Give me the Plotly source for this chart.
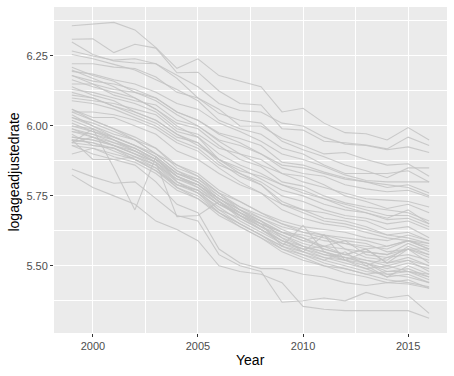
import plotly.graph_objects as go

years = list(range(1999, 2017))

U1 = [6.358, 6.365, 6.370, 6.343, 6.280, 6.206, 6.240, 6.180, 6.160, 6.140, 6.050, 6.063, 6.010, 5.976, 5.972, 5.950, 5.994, 5.950]
U2 = [6.310, 6.311, 6.262, 6.292, 6.278, 6.190, 6.192, 6.125, 6.080, 6.075, 5.990, 5.985, 5.945, 5.940, 5.932, 5.918, 5.960, 5.930]
U3 = [6.268, 6.250, 6.235, 6.240, 6.222, 6.182, 6.140, 6.080, 6.055, 6.050, 6.010, 6.000, 5.960, 5.935, 5.930, 5.915, 5.925, 5.905]
U4 = [6.300, 6.255, 6.232, 6.225, 6.222, 6.170, 6.100, 6.060, 6.000, 6.000, 5.955, 5.930, 5.900, 5.905, 5.880, 5.860, 5.865, 5.820]
U5 = [6.222, 6.222, 6.210, 6.205, 6.175, 6.120, 6.100, 6.045, 6.020, 6.010, 5.945, 5.915, 5.890, 5.860, 5.840, 5.815, 5.850, 5.850]
U6 = [6.255, 6.240, 6.220, 6.200, 6.165, 6.130, 6.090, 6.020, 5.990, 5.970, 5.920, 5.900, 5.860, 5.830, 5.830, 5.830, 5.840, 5.800]
U7 = [6.195, 6.185, 6.165, 6.150, 6.120, 6.080, 6.060, 6.010, 5.980, 5.945, 5.900, 5.880, 5.855, 5.825, 5.805, 5.800, 5.800, 5.800]
U8 = [6.180, 6.160, 6.150, 6.130, 6.100, 6.050, 6.020, 5.975, 5.955, 5.930, 5.870, 5.860, 5.835, 5.815, 5.800, 5.790, 5.780, 5.750]
U9 = [6.150, 6.150, 6.110, 6.090, 6.075, 6.020, 6.000, 5.950, 5.930, 5.900, 5.850, 5.830, 5.820, 5.790, 5.775, 5.765, 5.770, 5.745]
U10 = [6.210, 6.180, 6.160, 6.120, 6.090, 6.040, 6.000, 5.945, 5.900, 5.880, 5.830, 5.800, 5.780, 5.760, 5.740, 5.735, 5.730, 5.710]
U11 = [6.130, 6.120, 6.100, 6.080, 6.050, 5.990, 5.970, 5.920, 5.900, 5.860, 5.830, 5.820, 5.790, 5.750, 5.730, 5.705, 5.720, 5.690]
U12 = [6.165, 6.140, 6.120, 6.100, 6.060, 6.010, 5.990, 5.930, 5.880, 5.855, 5.800, 5.785, 5.750, 5.725, 5.710, 5.700, 5.690, 5.660]
U13 = [6.100, 6.090, 6.080, 6.060, 6.040, 5.980, 5.960, 5.900, 5.860, 5.830, 5.790, 5.770, 5.740, 5.720, 5.700, 5.680, 5.680, 5.650]
U14 = [6.120, 6.100, 6.070, 6.040, 6.010, 5.960, 5.940, 5.880, 5.850, 5.810, 5.770, 5.750, 5.720, 5.700, 5.690, 5.665, 5.670, 5.640]
U15 = [6.090, 6.080, 6.060, 6.030, 6.000, 5.950, 5.920, 5.860, 5.830, 5.800, 5.750, 5.730, 5.700, 5.680, 5.670, 5.650, 5.660, 5.630]
U16 = [6.140, 6.110, 6.090, 6.050, 6.020, 5.970, 5.940, 5.870, 5.820, 5.790, 5.730, 5.700, 5.690, 5.670, 5.660, 5.630, 5.640, 5.600]
U17 = [6.050, 6.050, 6.040, 6.020, 5.990, 5.940, 5.910, 5.850, 5.800, 5.760, 5.720, 5.700, 5.670, 5.660, 5.640, 5.610, 5.620, 5.590]
U18 = [6.200, 6.170, 6.140, 6.100, 6.060, 6.000, 5.960, 5.880, 5.830, 5.790, 5.720, 5.690, 5.660, 5.650, 5.630, 5.610, 5.600, 5.580]
U19 = [6.060, 6.030, 6.030, 6.000, 5.970, 5.910, 5.880, 5.830, 5.790, 5.760, 5.700, 5.670, 5.650, 5.640, 5.620, 5.600, 5.590, 5.570]
U20 = [6.110, 6.100, 6.070, 6.050, 6.020, 5.970, 5.930, 5.880, 5.840, 5.820, 5.790, 5.760, 5.740, 5.710, 5.690, 5.670, 5.700, 5.650]
U21 = [6.180, 6.150, 6.130, 6.120, 6.100, 6.050, 6.020, 5.970, 5.940, 5.900, 5.860, 5.850, 5.830, 5.810, 5.800, 5.780, 5.790, 5.760]

L1 = [5.940, 5.990, 5.850, 5.700, 5.890, 5.800, 5.770, 5.720, 5.690, 5.650, 5.620, 5.600, 5.560, 5.540, 5.560, 5.510, 5.530, 5.500]
L2 = [6.040, 6.000, 5.970, 5.950, 5.920, 5.860, 5.820, 5.760, 5.700, 5.660, 5.620, 5.590, 5.570, 5.560, 5.550, 5.540, 5.560, 5.530]
L3 = [6.030, 6.000, 5.960, 5.930, 5.900, 5.840, 5.800, 5.740, 5.690, 5.650, 5.610, 5.580, 5.560, 5.540, 5.520, 5.510, 5.520, 5.480]
L4 = [6.000, 5.990, 5.950, 5.920, 5.880, 5.820, 5.790, 5.730, 5.680, 5.640, 5.600, 5.570, 5.550, 5.530, 5.510, 5.480, 5.490, 5.460]
L5 = [5.980, 5.960, 5.940, 5.910, 5.870, 5.810, 5.780, 5.720, 5.680, 5.630, 5.590, 5.560, 5.540, 5.520, 5.510, 5.470, 5.480, 5.450]
L6 = [5.950, 5.880, 5.880, 5.890, 5.850, 5.790, 5.770, 5.700, 5.670, 5.630, 5.580, 5.550, 5.530, 5.510, 5.490, 5.460, 5.470, 5.440]
L7 = [5.960, 5.950, 5.930, 5.900, 5.860, 5.800, 5.760, 5.700, 5.650, 5.610, 5.570, 5.540, 5.510, 5.490, 5.470, 5.450, 5.440, 5.425]
L8 = [5.930, 5.920, 5.900, 5.880, 5.840, 5.780, 5.750, 5.690, 5.640, 5.600, 5.560, 5.530, 5.500, 5.475, 5.460, 5.440, 5.435, 5.420]
L9 = [6.020, 5.990, 5.960, 5.930, 5.890, 5.830, 5.800, 5.750, 5.700, 5.670, 5.640, 5.620, 5.600, 5.580, 5.570, 5.560, 5.590, 5.560]
L10 = [5.990, 5.970, 5.950, 5.920, 5.880, 5.820, 5.780, 5.730, 5.690, 5.660, 5.600, 5.550, 5.610, 5.520, 5.550, 5.540, 5.580, 5.550]
L11 = [5.950, 5.940, 5.920, 5.890, 5.860, 5.810, 5.790, 5.740, 5.700, 5.660, 5.620, 5.590, 5.610, 5.560, 5.530, 5.520, 5.570, 5.540]
L12 = [6.050, 6.020, 5.990, 5.960, 5.920, 5.850, 5.820, 5.760, 5.710, 5.670, 5.630, 5.600, 5.570, 5.590, 5.540, 5.530, 5.560, 5.510]
L13 = [5.940, 5.960, 5.930, 5.900, 5.870, 5.820, 5.790, 5.740, 5.700, 5.650, 5.570, 5.645, 5.550, 5.520, 5.500, 5.530, 5.540, 5.520]
L14 = [5.970, 5.930, 5.920, 5.890, 5.860, 5.790, 5.760, 5.710, 5.660, 5.620, 5.580, 5.560, 5.570, 5.540, 5.560, 5.510, 5.560, 5.560]
L15 = [6.000, 5.980, 5.960, 5.930, 5.890, 5.830, 5.800, 5.740, 5.690, 5.640, 5.590, 5.560, 5.530, 5.520, 5.490, 5.500, 5.480, 5.460]
L16 = [5.950, 5.940, 5.910, 5.880, 5.850, 5.780, 5.740, 5.680, 5.640, 5.600, 5.550, 5.520, 5.500, 5.490, 5.470, 5.480, 5.480, 5.470]
L17 = [5.990, 5.960, 5.930, 5.900, 5.870, 5.676, 5.680, 5.730, 5.670, 5.630, 5.590, 5.570, 5.540, 5.530, 5.510, 5.490, 5.510, 5.490]
L18 = [6.030, 6.010, 5.980, 5.950, 5.900, 5.840, 5.810, 5.750, 5.710, 5.680, 5.650, 5.620, 5.610, 5.600, 5.590, 5.570, 5.590, 5.580]
L19 = [5.960, 5.950, 5.930, 5.910, 5.880, 5.820, 5.790, 5.730, 5.680, 5.640, 5.610, 5.570, 5.550, 5.530, 5.520, 5.500, 5.520, 5.500]
L20 = [5.980, 5.970, 5.940, 5.920, 5.880, 5.830, 5.810, 5.760, 5.730, 5.690, 5.650, 5.630, 5.610, 5.590, 5.580, 5.550, 5.560, 5.540]
L21 = [6.010, 5.980, 5.950, 5.910, 5.870, 5.800, 5.760, 5.690, 5.650, 5.610, 5.560, 5.540, 5.520, 5.550, 5.500, 5.460, 5.500, 5.470]
L22 = [5.940, 5.930, 5.920, 5.880, 5.840, 5.790, 5.770, 5.720, 5.680, 5.650, 5.620, 5.610, 5.590, 5.580, 5.560, 5.570, 5.590, 5.560]
L23 = [6.060, 6.020, 5.990, 5.950, 5.900, 5.860, 5.830, 5.770, 5.730, 5.690, 5.660, 5.640, 5.630, 5.620, 5.600, 5.590, 5.610, 5.590]
L24 = [5.900, 5.920, 5.890, 5.870, 5.830, 5.770, 5.740, 5.690, 5.650, 5.610, 5.570, 5.550, 5.520, 5.500, 5.480, 5.470, 5.460, 5.440]

B1 = [5.846, 5.818, 5.795, 5.800, 5.740, 5.680, 5.660, 5.540, 5.500, 5.480, 5.370, 5.375, 5.385, 5.375, 5.405, 5.385, 5.395, 5.330]
B2 = [5.825, 5.780, 5.750, 5.720, 5.660, 5.630, 5.590, 5.500, 5.480, 5.470, 5.440, 5.355, 5.345, 5.340, 5.340, 5.340, 5.340, 5.313]
B3 = [5.930, 5.900, 5.880, 5.860, 5.800, 5.720, 5.690, 5.560, 5.510, 5.490, 5.490, 5.470, 5.460, 5.440, 5.430, 5.440, 5.450, 5.420]

series = [U1, U2, U3, U4, U5, U6, U7, U8, U9, U10, U11, U12, U13, U14, U15, U16,
          U17, U18, U19, U20, U21, L1, L2, L3, L4, L5, L6, L7, L8, L9, L10, L11,
          L12, L13, L14, L15, L16, L17, L18, L19, L20, L21, L22, L23, L24, B1, B2, B3]

x_ticks = [2000, 2005, 2010, 2015]
y_ticks = [5.50, 5.75, 6.00, 6.25]

fig = go.Figure()
for s in series:
    fig.add_trace(go.Scatter(x=years, y=s, mode="lines",
                             line=dict(color="rgba(195,195,195,0.85)", width=1.1),
                             showlegend=False, hoverinfo="skip"))

axis_common = dict(
    showgrid=True, gridcolor="white", gridwidth=1.1,
    zeroline=False, showline=False, automargin=False,
    ticks="outside", ticklen=3, tickcolor="#333333", tickwidth=1,
    tickfont=dict(family="Liberation Sans, Arial, sans-serif", size=11, color="#4d4d4d"),
)

fig.update_layout(
    width=454, height=376,
    margin=dict(l=54, r=7, t=7, b=43),
    paper_bgcolor="white", plot_bgcolor="#EBEBEB",
    font=dict(family="Liberation Sans, Arial, sans-serif"),
    xaxis=dict(range=[1998.15, 2016.85], tickmode="array", tickvals=x_ticks,
               ticktext=[str(v) for v in x_ticks],
               minor=dict(tickmode="array", tickvals=[1997.5, 2002.5, 2007.5, 2012.5],
                          showgrid=True, gridcolor="white", gridwidth=0.55, ticks=""),
               **axis_common),
    yaxis=dict(range=[5.26, 6.425], tickmode="array", tickvals=y_ticks,
               ticktext=["%.2f" % v for v in y_ticks],
               minor=dict(tickmode="array", tickvals=[5.375, 5.625, 5.875, 6.125, 6.375],
                          showgrid=True, gridcolor="white", gridwidth=0.55, ticks=""),
               **axis_common),
    annotations=[
        dict(text="Year", xref="paper", yref="paper", x=0.5, y=-0.083,
             xanchor="center", yanchor="middle", showarrow=False,
             font=dict(size=14, color="black")),
        dict(text="logageadjustedrate", xref="paper", yref="paper", x=-0.102, y=0.495,
             xanchor="center", yanchor="middle", showarrow=False, textangle=-90,
             font=dict(size=14, color="black")),
    ],
)

fig.write_html("out.html", config={"displayModeBar": False},
               post_script="document.body.style.margin='0';")
